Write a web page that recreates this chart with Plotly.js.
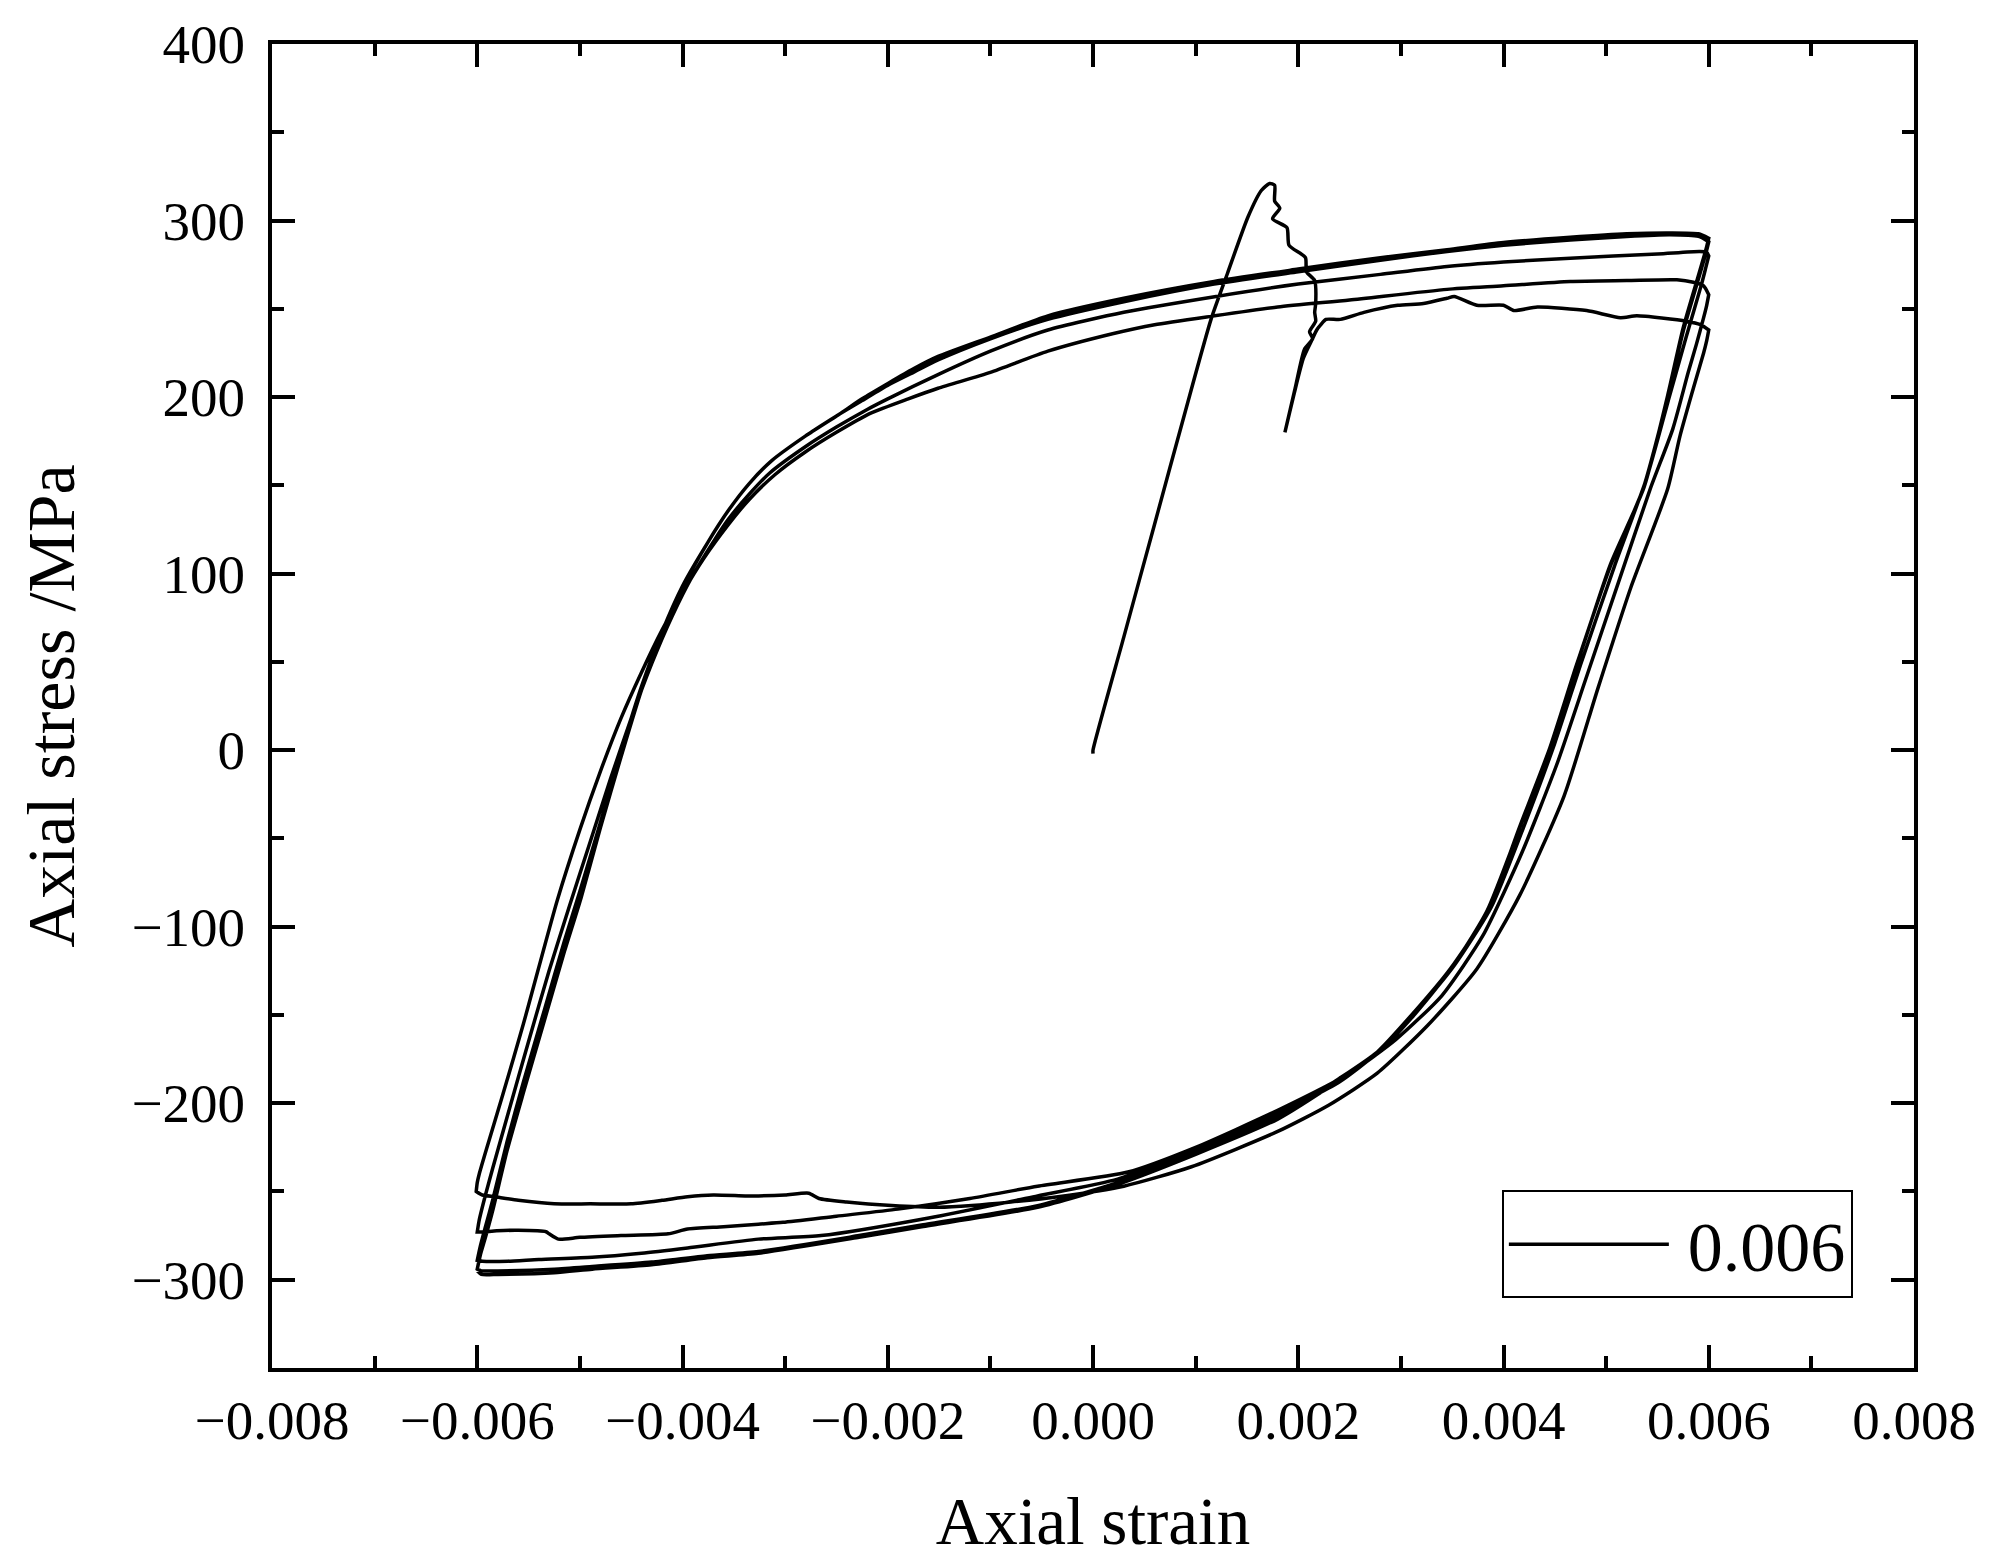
<!DOCTYPE html>
<html>
<head>
<meta charset="utf-8">
<script src="https://cdn.plot.ly/plotly-3.0.1.min.js"></script>
<style>html,body{margin:0;padding:0;background:#fff;}</style>
</head>
<body>
<div id="chart" style="width:2004px;height:1568px;"></div>
<script>
// ---- Data (strain, stress in MPa) ----
// Initial loading, upper yield, drop and first tensile plateau
const strainInit = [0.00000, 0.00000, 0.00030, 0.00060, 0.00090, 0.00115, 0.00131, 0.00151, 0.00164, 0.00172,
  0.00177, 0.00177, 0.00182, 0.00175, 0.00189, 0.00191, 0.00207, 0.00208, 0.00216, 0.00217,
  0.00216, 0.00217, 0.00211, 0.00214, 0.00206, 0.00197, 0.00187, 0.00196, 0.00205, 0.00213,
  0.00218, 0.00222, 0.00227, 0.00241, 0.00264, 0.00297, 0.00322, 0.00345, 0.00352, 0.00374,
  0.00400, 0.00410, 0.00433, 0.00481, 0.00514, 0.00530, 0.00578, 0.00592, 0.00600];
const stressInit = [-2, 0, 64, 128, 192, 244, 270, 302, 317, 321,
  320, 311, 307, 301, 296, 286, 279, 271, 266, 253,
  248, 243, 237, 233, 227, 205, 180, 202, 222, 232,
  238, 241, 244, 244, 248, 252, 253, 256, 257, 252,
  252, 249, 251, 249, 245, 246, 243, 241, 238];

// Compression half-cycle 1
const strainC1 = [0.00600, 0.00598, 0.00595, 0.00585, 0.00572, 0.00560, 0.00524, 0.00492, 0.00459, 0.00416,
  0.00374, 0.00326, 0.00277, 0.00230, 0.00180, 0.00096, 0.00030, -0.00034, -0.00080, -0.00118,
  -0.00150, -0.00196, -0.00240, -0.00267, -0.00277, -0.00300, -0.00326, -0.00339, -0.00370, -0.00395,
  -0.00420, -0.00450, -0.00490, -0.00525, -0.00560, -0.00583, -0.00595, -0.00601];
const stressC1 = [238, 232, 225, 205, 178, 148, 92, 35, -26, -82,
  -124, -156, -183, -201, -216, -236, -247, -253, -256, -258,
  -259, -258, -256, -254, -251, -252, -252.5, -252.5, -252, -253,
  -255, -257, -257, -257, -255, -253, -252, -250];

// Tension half-cycle 2
const strainT2 = [-0.00601, -0.00600, -0.00598, -0.00591, -0.00575, -0.00555, -0.00522, -0.00500, -0.00480, -0.00460,
  -0.00440, -0.00420, -0.00400, -0.00380, -0.00355, -0.00335, -0.00310, -0.00280, -0.00250, -0.00216,
  -0.00180, -0.00151, -0.00100, -0.00044, 0.00020, 0.00060, 0.00118, 0.00180, 0.00250, 0.00345,
  0.00400, 0.00465, 0.00520, 0.00569, 0.00585, 0.00595, 0.00600];
const stressT2 = [-250, -245, -240, -226, -195, -155, -85, -45, -12, 18,
  44, 68, 89, 108, 128, 142, 156, 169, 180, 191,
  199, 205, 214, 226, 236, 241, 246, 251, 255, 261,
  263, 265.5, 266, 266.4, 265, 263, 258];

// Compression half-cycle 2
const strainC2 = [0.00600, 0.00598, 0.00595, 0.00588, 0.00580, 0.00565, 0.00543, 0.00512, 0.00480, 0.00452,
  0.00418, 0.00380, 0.00340, 0.00295, 0.00250, 0.00180, 0.00100, 0.00034, -0.00054, -0.00120,
  -0.00190, -0.00250, -0.00302, -0.00326, -0.00360, -0.00395, -0.00414, -0.00460, -0.00500, -0.00521,
  -0.00530, -0.00533, -0.00560, -0.00581, -0.00595, -0.00600];
const stressC2 = [258, 252, 245, 230, 214, 182, 148, 95, 40, -8,
  -58, -105, -139, -164, -183, -204, -225, -239, -247, -254,
  -260, -264, -267.5, -268.5, -270, -271.3, -274, -275, -276, -277,
  -274, -272.8, -272, -272.3, -273, -273];

// Tension half-cycle 3
const strainT3 = [-0.00600, -0.00598, -0.00592, -0.00585, -0.00570, -0.00550, -0.00530, -0.00510, -0.00490, -0.00470,
  -0.00450, -0.00430, -0.00410, -0.00390, -0.00370, -0.00355, -0.00335, -0.00315, -0.00280, -0.00250,
  -0.00220, -0.00200, -0.00150, -0.00100, -0.00044, 0.00030, 0.00120, 0.00200, 0.00280, 0.00345,
  0.00400, 0.00465, 0.00550, 0.00591, 0.00598, 0.00600];
const stressT3 = [-273, -266, -252, -237, -206, -165, -125, -88, -52, -16,
  18, 49, 76, 99, 118, 131, 145, 157, 172, 183,
  193, 199, 213, 226, 238, 248, 257, 264, 269.5, 274,
  276.5, 278.7, 281, 282.4, 282, 280];

// Compression half-cycle 3
const strainC3 = [0.00600, 0.00597, 0.00593, 0.00578, 0.00562, 0.00540, 0.00508, 0.00476, 0.00450, 0.00420,
  0.00388, 0.00352, 0.00312, 0.00278, 0.00240, 0.00180, 0.00100, 0.00024, -0.00054, -0.00160,
  -0.00265, -0.00326, -0.00395, -0.00440, -0.00488, -0.00540, -0.00570, -0.00595, -0.00600];
const stressC3 = [280, 273, 264, 234, 201, 155, 104, 50, 4, -43,
  -89, -122, -150, -171, -188, -206, -226, -243, -252.5, -265,
  -275, -277, -282, -285, -287.3, -288.5, -289.5, -289.5, -289];

// Tension half-cycle 4
const strainT4 = [-0.00600, -0.00597, -0.00592, -0.00585, -0.00571, -0.00555, -0.00535, -0.00515, -0.00500, -0.00480,
  -0.00460, -0.00440, -0.00420, -0.00400, -0.00375, -0.00355, -0.00335, -0.00313, -0.00280, -0.00248,
  -0.00225, -0.00199, -0.00175, -0.00151, -0.00100, -0.00044, 0.00030, 0.00118, 0.00200, 0.00280,
  0.00345, 0.00400, 0.00465, 0.00520, 0.00562, 0.00590, 0.00600];
const stressT4 = [-289, -281, -270, -255, -222, -188, -148, -108, -80, -41,
  -1, 36, 67, 93, 118, 136, 151, 164, 178, 190,
  198, 207, 214, 221, 233, 244, 254, 264, 271, 277.5,
  282.5, 286, 289, 291, 292, 291, 288];

// Compression half-cycle 4
const strainC4 = [0.00600, 0.00597, 0.00590, 0.00575, 0.00560, 0.00536, 0.00504, 0.00471, 0.00445, 0.00416,
  0.00384, 0.00348, 0.00309, 0.00277, 0.00240, 0.00180, 0.00100, 0.00024, -0.00054, -0.00167,
  -0.00228, -0.00326, -0.00376, -0.00430, -0.00488, -0.00525, -0.00580, -0.00596, -0.00600];
const stressC4 = [288, 281, 267, 237, 200, 148, 104, 48, 1, -43,
  -92, -124, -151, -171, -186, -208, -228, -245, -258, -269,
  -275, -284, -286.4, -290, -292.5, -294, -295, -295, -294];

// Tension half-cycle 5
const strainT5 = [-0.00600, -0.00597, -0.00592, -0.00585, -0.00571, -0.00555, -0.00535, -0.00515, -0.00499, -0.00480,
  -0.00460, -0.00440, -0.00420, -0.00400, -0.00375, -0.00355, -0.00335, -0.00313, -0.00280, -0.00248,
  -0.00225, -0.00199, -0.00175, -0.00151, -0.00100, -0.00044, 0.00030, 0.00118, 0.00200, 0.00280,
  0.00345, 0.00400, 0.00465, 0.00520, 0.00562, 0.00590, 0.00600];
const stressT5 = [-294, -286, -276, -261, -227, -194, -154, -114, -84, -44,
  -4, 34, 66, 92, 118, 136, 151, 164, 178, 190,
  199, 208, 216, 223, 234, 246, 256, 265.5, 272.5, 279,
  283.5, 287.5, 290.5, 292.5, 293, 292.5, 290];

// Compression half-cycle 5
const strainC5 = [0.00600, 0.00597, 0.00590, 0.00575, 0.00560, 0.00537, 0.00504, 0.00472, 0.00446, 0.00417,
  0.00384, 0.00349, 0.00310, 0.00277, 0.00240, 0.00180, 0.00100, 0.00024, -0.00054, -0.00167,
  -0.00228, -0.00326, -0.00376, -0.00430, -0.00488, -0.00525, -0.00580, -0.00596, -0.00600];
const stressC5 = [290, 283, 269, 239, 201, 149, 105, 49, 2, -42,
  -91, -124, -152, -172, -187, -209, -229, -246, -259, -270,
  -276, -285, -287.5, -291.5, -294, -296, -297, -297, -295];

const seriesName = '\u20090.006';
const xTitle = 'Axial strain';
const yTitle = 'Axial stress /MPa';
const xTickFormat = '.3f';

// ---- Build the single trace from the segments ----
const segments = [
  [strainInit, stressInit], [strainC1, stressC1], [strainT2, stressT2], [strainC2, stressC2],
  [strainT3, stressT3], [strainC3, stressC3], [strainT4, stressT4], [strainC4, stressC4],
  [strainT5, stressT5], [strainC5, stressC5]
];
const xs = [], ys = [];
segments.forEach(function (seg) {
  for (let i = 0; i < seg[0].length; i++) { xs.push(seg[0][i]); ys.push(seg[1][i]); }
});

const FONT = 'Liberation Serif, "Times New Roman", Times, serif';

const trace = {
  x: xs, y: ys, type: 'scatter', mode: 'lines', name: seriesName,
  line: { color: '#000', width: 3.5, shape: 'spline', smoothing: 0.6 }, showlegend: true
};

const axisCommon = {
  ticks: 'inside', ticklen: 23, tickwidth: 4, tickcolor: '#000',
  showline: true, linewidth: 4, linecolor: '#000', mirror: 'ticks',
  showgrid: false, zeroline: false,
  tickfont: { family: FONT, size: 55, color: '#000' },
  automargin: false
};

const layout = {
  width: 2004, height: 1568,
  margin: { l: 272, r: 90, t: 44, b: 200, pad: 0 },
  paper_bgcolor: '#fff', plot_bgcolor: '#fff',
  font: { family: FONT, color: '#000' },
  showlegend: true,
  xaxis: Object.assign({}, axisCommon, {
    range: [-0.008, 0.008], tick0: 0, dtick: 0.002, tickformat: xTickFormat,
    ticklabelstandoff: 1,
    minor: { dtick: 0.001, ticks: 'inside', ticklen: 12, tickwidth: 4, tickcolor: '#000', showgrid: false },
    title: { text: xTitle, font: { family: FONT, size: 67, color: '#000' }, standoff: 48 }
  }),
  yaxis: Object.assign({}, axisCommon, {
    range: [-350, 400], tick0: 0, dtick: 100,
    ticklabelstandoff: 12,
    minor: { dtick: 50, ticks: 'inside', ticklen: 12, tickwidth: 4, tickcolor: '#000', showgrid: false },
    title: { text: yTitle, font: { family: FONT, size: 68, color: '#000' }, standoff: 36 }
  }),
  legend: {
    x: 0.749, y: 0.1343, xanchor: 'left', yanchor: 'top',
    bgcolor: '#fff', bordercolor: '#000', borderwidth: 2,
    font: { family: FONT, size: 70, color: '#000' },
    itemwidth: 160
  }
};

Plotly.newPlot('chart', [trace], layout, { staticPlot: true, displayModeBar: false });
</script>
</body>
</html>
